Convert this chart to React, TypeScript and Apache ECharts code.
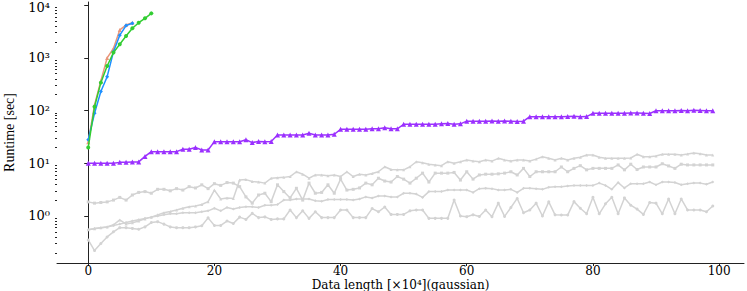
import React, { useEffect, useRef } from "react";
import * as echarts from "echarts";

// Runtime [sec] by data length index (x = 0..n-1)
const purpleRuntime = [
  10, 10, 10, 10, 10, 10.4, 10.4, 10.6, 10.6, 13.5,
  16.6, 16.6, 16.6, 16.6, 16.6, 18.4, 18.4, 20, 17.9, 17.9,
  25.7, 25.7, 25.7, 25.7, 25.7, 28, 24.7, 26, 25.5, 26,
  34.4, 34.4, 34.4, 34.4, 34.4, 37, 34.5, 34.5, 34.5, 35.5,
  44, 44, 44, 44, 44, 45, 45, 47.4, 45, 45,
  55, 55, 55, 55, 55, 55, 56, 57, 55, 56,
  63, 63, 63, 63, 63.5, 63, 63.5, 63, 62, 63,
  76.6, 76.6, 76.6, 76.6, 76.6, 76.6, 77.5, 78, 76.6, 77,
  88.8, 88.8, 88.8, 88.8, 88.8, 88.8, 89.5, 89.5, 88.8, 88,
  99, 99, 99, 99, 100, 99, 101, 100, 99, 99,
];

const salmonRuntime = [25, 128, 365, 1000, 1510, 3400, 4200, 4650];
const blueRuntime = [28, 89, 230, 440, 1310, 2700, 4100, 4550];
const greenRuntime = [20, 118, 339, 700, 1260, 1810, 2600, 3650, 4650, 5640, 7000];

const greyA = [
  1.85, 1.75, 1.8, 1.85, 2.0, 2.25, 2.0, 2.5, 2.8, 2.9,
  2.7, 3.2, 3.2, 3.0, 3.3, 3.1, 3.6, 3.4, 3.9, 3.3,
  4.1, 3.8, 4.3, 4.2, 3.6, 2.3, 1.75, 2.5, 2.7, 1.87,
  3.9, 2.9, 2.2, 3.35, 2.0, 4.2, 2.7, 2.8, 3.9, 2.7,
  5.0, 3.1, 3.2, 3.4, 4.2, 3.9, 5.2, 4.6, 4.4, 5.6,
  5.0, 4.2, 5.2, 6.5, 4.4, 6.5, 6.5, 6.5, 6.7, 4.8,
  6.9, 5.0, 6.0, 6.2, 6.2, 6.3, 6.5, 6.9, 6.0, 8.0,
  5.6, 6.9, 6.9, 6.9, 6.9, 8.5, 6.9, 8.0, 9.0, 7.5,
  8.0, 8.0, 8.0, 8.0, 9.3, 7.5, 9.6, 7.6, 8.5, 8.5,
  8.5, 9.8, 8.9, 8.0, 9.6, 9.3, 9.3, 9.3, 9.3, 9.3,
];

const greyB = [
  0.55, 0.57, 0.6, 0.62, 0.68, 0.84, 0.7, 0.74, 0.8, 0.88,
  0.95, 1.05, 1.15, 1.22, 1.3, 1.4, 1.5, 1.55, 1.65, 1.87,
  3.1, 2.1, 2.2, 2.15, 4.8, 4.9, 4.5, 4.4, 4.2, 5.2,
  5.3, 5.4, 5.6, 6.9, 6.2, 5.2, 6.0, 6.0, 5.8, 6.0,
  5.6, 6.9, 5.6, 6.2, 6.0, 6.4, 6.9, 8.6, 7.6, 7.5,
  7.5, 8.6, 10.7, 10.2, 9.6, 9.3, 9.0, 10.7, 10.0, 10.7,
  11.5, 11.0, 10.7, 11.5, 11.0, 12.4, 11.5, 11.0, 11.5, 11.5,
  11.0, 12.0, 13.3, 12.4, 11.5, 12.4, 11.5, 12.4, 13.0, 14.4,
  14.4, 13.0, 12.4, 12.4, 12.4, 12.4, 12.6, 14.8, 13.3, 13.3,
  13.8, 14.8, 14.8, 14.8, 14.4, 15.0, 15.7, 15.2, 14.4, 14.4,
];

const greyC = [
  0.55, 0.58, 0.6, 0.62, 0.66, 0.7, 0.75, 0.8, 0.85, 0.9,
  0.95, 1.0, 1.05, 1.1, 1.1, 1.15, 1.15, 1.15, 1.2, 1.25,
  1.4, 1.25, 1.45, 1.35, 1.45, 1.5, 1.5, 1.45, 1.6, 1.6,
  1.65, 2.0, 2.0, 2.1, 2.1, 2.1, 1.95, 1.9, 2.05, 2.05,
  2.05, 2.05, 2.0, 2.1, 2.3, 2.2, 2.4, 2.4, 2.3, 2.3,
  2.7, 2.7, 2.6, 2.25, 2.9, 2.9, 2.9, 3.1, 3.1, 3.1,
  3.1, 2.8, 3.3, 3.35, 3.3, 3.1, 3.1, 3.2, 2.8, 3.35,
  3.35, 3.3, 3.2, 3.5, 3.6, 3.6, 3.7, 3.8, 3.8, 3.8,
  3.8, 4.2, 3.8, 3.2, 4.3, 3.4, 4.1, 4.1, 4.1, 4.4,
  3.9, 4.4, 4.4, 4.3, 3.9, 4.1, 4.2, 4.2, 4.0, 4.4,
];

const greyD = [
  0.35, 0.22, 0.3, 0.4, 0.5, 0.6, 0.6, 0.58, 0.56, 0.62,
  0.75, 0.78, 0.7, 0.62, 0.6, 0.6, 0.6, 0.62, 0.65, 0.92,
  0.66, 0.66, 0.8, 0.72, 0.95, 0.86, 1.12, 0.93, 0.96, 0.86,
  0.88, 0.88, 1.3, 0.93, 1.25, 0.9, 1.2, 0.93, 0.93, 0.93,
  1.3, 1.3, 0.93, 0.93, 0.93, 1.38, 1.2, 1.48, 1.07, 1.07,
  1.07, 1.25, 1.3, 1.3, 0.9, 0.9, 0.9, 0.9, 2.0, 1.0,
  0.97, 1.05, 0.98, 1.3, 0.97, 1.75, 0.98, 1.45, 2.15, 1.15,
  1.3, 1.75, 1.0, 1.85, 1.05, 1.04, 1.04, 1.87, 1.4, 1.1,
  2.26, 1.1, 1.7, 2.26, 1.1, 2.2, 1.6, 1.35, 1.07, 1.8,
  1.75, 1.1, 2.1, 1.1, 2.1, 1.3, 1.3, 1.3, 1.2, 1.55,
];

const xTicks = [0, 20, 40, 60, 80, 100];
const yTicks = [1, 10, 100, 1000, 10000];
const supDigits = ["⁰", "¹", "²", "³", "⁴"];

const X_MIN = -4.95;
const X_MAX = 103.95;
const Y_MIN = 0.128;
const Y_MAX = 11500;

const minorTicks: number[] = [];
for (let k = -1; k <= 4; k++) {
  for (let m = 2; m <= 9; m++) {
    const v = m * Math.pow(10, k);
    if (v > Y_MIN && v < Y_MAX) minorTicks.push(v);
  }
}

const toPairs = (arr: number[]) => arr.map((v, i) => [i, v]);

const FONT = "DejaVu Serif";
const AXIS_COLOR = "#222";

export default function App() {
  const ref = useRef<HTMLDivElement>(null);
  useEffect(() => {
    const chart = echarts.init(ref.current!, null, { renderer: "svg" });
    const grey = (name: string, data: number[], symbol: string) => ({
      name,
      type: "line",
      data: toPairs(data),
      yAxisIndex: 0,
      symbol,
      symbolSize: 3,
      lineStyle: { color: "#d3d3d3", width: 1.5 },
      itemStyle: { color: "#d3d3d3" },
      z: 1,
    });
    const colored = (name: string, data: number[], color: string, symbol: string, size: number, z: number) => ({
      name,
      type: "line",
      data: toPairs(data),
      yAxisIndex: 0,
      symbol,
      symbolSize: size,
      lineStyle: { color, width: 1.5 },
      itemStyle: { color },
      z,
    });
    chart.setOption({
      animation: false,
      backgroundColor: "#ffffff",
      grid: { left: 57, right: 3, top: 2, bottom: 28, containLabel: false, outerBoundsMode: "none" },
      xAxis: {
        type: "value",
        min: X_MIN,
        max: X_MAX,
        name: "Data length [×10⁴](gaussian)",
        nameLocation: "middle",
        nameGap: 16,
        nameMoveOverlap: false,
        nameTextStyle: { fontFamily: FONT, fontSize: 12, color: "#000", lineHeight: 12 },
        axisLine: { show: true, lineStyle: { color: AXIS_COLOR, width: 1 } },
        axisTick: { show: true, customValues: xTicks, length: 3, lineStyle: { color: AXIS_COLOR } },
        axisLabel: {
          customValues: xTicks,
          fontFamily: FONT,
          fontSize: 12,
          lineHeight: 12,
          color: "#000",
          margin: 2,
        },
        splitLine: { show: false },
      },
      yAxis: [
        {
          type: "log",
          logBase: 10,
          position: "left",
          min: Y_MIN,
          max: Y_MAX,
          name: "Runtime [sec]",
          nameLocation: "middle",
          nameGap: 42,
          nameMoveOverlap: false,
          nameTextStyle: { fontFamily: "Liberation Serif", fontSize: 14, color: "#000", lineHeight: 12 },
          axisLine: { show: true, lineStyle: { color: AXIS_COLOR, width: 1 } },
          axisTick: { show: true, customValues: yTicks, length: 4, lineStyle: { color: AXIS_COLOR } },
          axisLabel: {
            customValues: yTicks,
            fontFamily: FONT,
            fontSize: 13,
            lineHeight: 10,
            color: "#000",
            margin: 7,
            formatter: (v: number) => {
              const label = "10" + supDigits[Math.round(Math.log10(v))];
              return v >= 10000 ? "{t|" + label + "}" : label;
            },
            rich: {
              t: { fontFamily: FONT, fontSize: 13, lineHeight: 10, color: "#000", padding: [5, 0, 0, 0] },
            },
          },
          splitLine: { show: false },
        },
        {
          type: "log",
          logBase: 10,
          position: "left",
          offset: 0,
          min: Y_MIN,
          max: Y_MAX,
          axisLine: { show: false },
          axisTick: { show: true, customValues: minorTicks, length: 2, lineStyle: { color: AXIS_COLOR } },
          axisLabel: { show: false },
          splitLine: { show: false },
        },
      ],
      series: [
        grey("grey A", greyA, "rect"),
        grey("grey B", greyB, "triangle"),
        grey("grey C", greyC, "diamond"),
        grey("grey D", greyD, "circle"),
        colored("purple", purpleRuntime, "#9b30ff", "triangle", 5, 3),
        colored("salmon", salmonRuntime, "#e9967a", "triangle", 4, 4),
        colored("blue", blueRuntime, "#1e90ff", "diamond", 4, 5),
        colored("green", greenRuntime, "#32cd32", "circle", 4, 6),
      ],
    });
    return () => chart.dispose();
  }, []);
  return (
    <div
      ref={ref}
      style={{ position: "fixed", left: 0, top: 0, width: 747, height: 291, background: "#fff" }}
    />
  );
}
